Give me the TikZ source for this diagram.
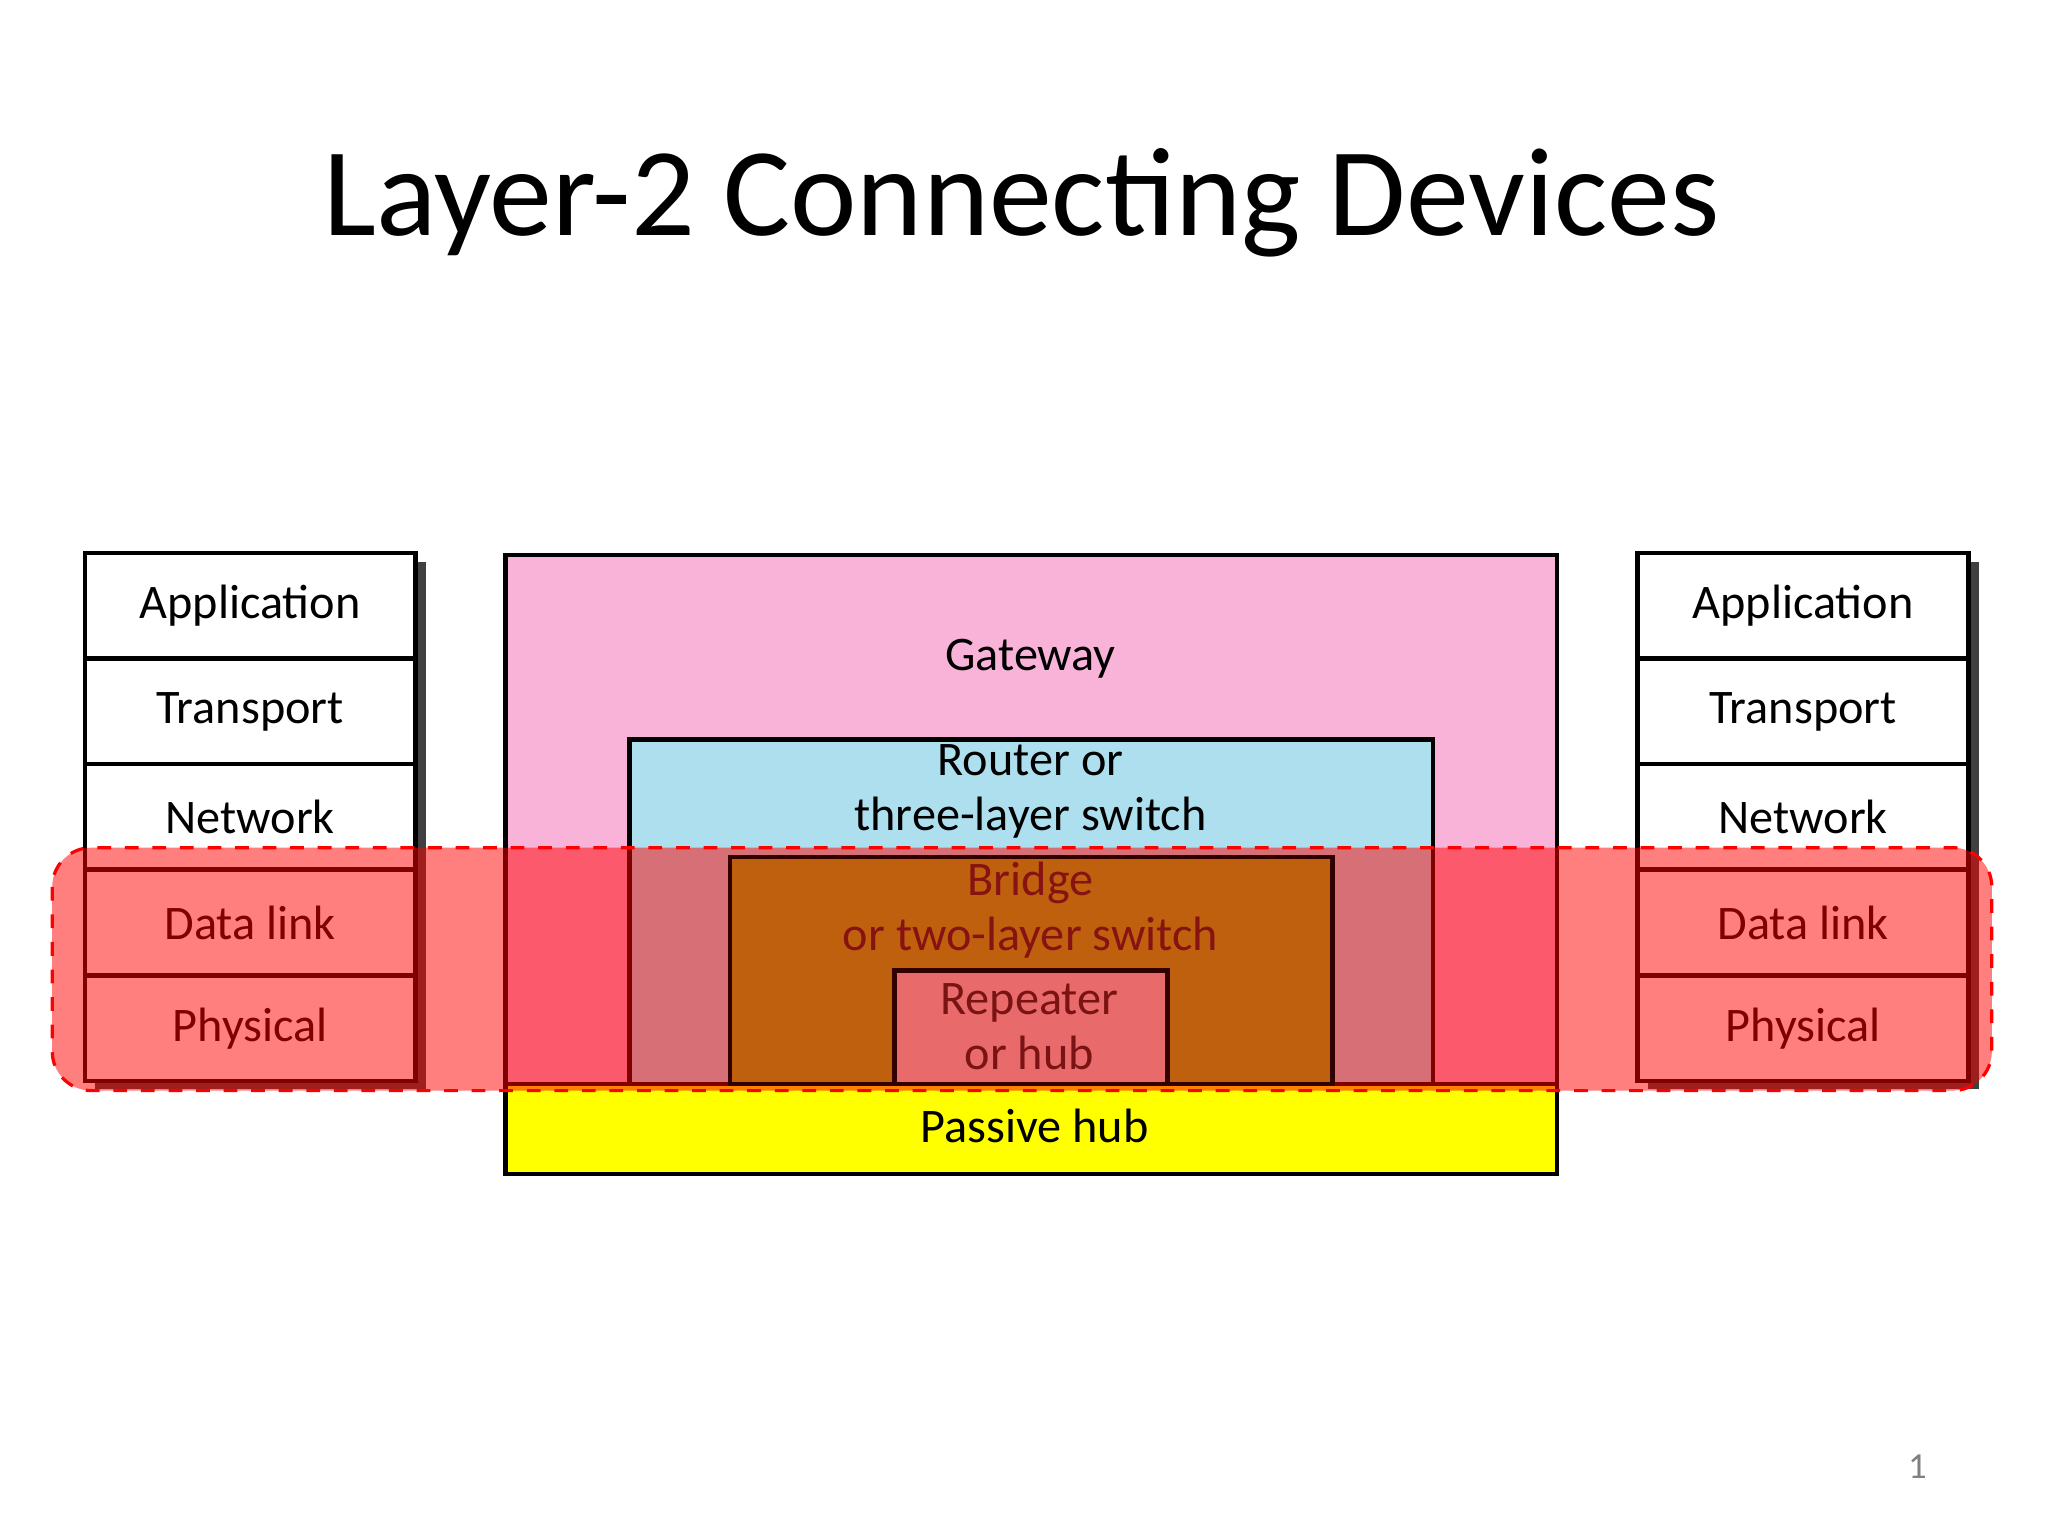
\documentclass[tikz,border=0pt]{standalone}
\usepackage{fontspec}
\setmainfont{Carlito}
\definecolor{gwpink}{HTML}{F9B3D9}
\definecolor{rtblue}{HTML}{ADDFEE}
\definecolor{brbrown}{HTML}{BF600F}
\definecolor{rpred}{HTML}{E86A6A}
\definecolor{hubyel}{HTML}{FFFF00}
\definecolor{dred}{HTML}{7A1414}
\begin{document}
\begin{tikzpicture}[x=0.01cm,y=-0.01cm,
  lbl/.style={font=\fontsize{10.5pt}{12pt}\selectfont,align=center},
  layer/.style={draw=black,line width=1pt,fill=white,minimum width=2.53cm,minimum height=0.81cm,inner sep=0pt,lbl},
  box/.style={draw=black,line width=1pt}]
\useasboundingbox (0,0) rectangle (1568,1176);
\node[font=\fontsize{27.4pt}{32pt}\selectfont] (title) at (782,155) {Layer-2 Connecting Devices};
% protocol stacks
\foreach \side/\x in {l/191.5,r/1380.5}{
  \fill[black!75] (\x-118.5,430) rectangle (\x+134.5,834);
  \foreach \n/\t [count=\i from 0] in {a/Application,t/Transport,n/Network,d/Data link,p/Physical}
    \node[layer] (\side\n) at (\x,464+80.8*\i) {\t};
}
% devices
\fill[gwpink,box] (387,425) rectangle (1192,830);
\node[lbl] (gw) at (789,504) {Gateway};
\fill[rtblue,box] (482,566) rectangle (1097,830);
\node[lbl,inner sep=0pt] (rt) at (789,606) {Router or\\three-layer switch};
\fill[hubyel,box] (387,830) rectangle (1192,899);
\node[lbl] (hub) at (792,862) {Passive hub};
% layer-2 overlay
\fill[red,fill opacity=0.5,draw=red,dashed,line width=0.7pt,rounded corners=0.3cm] (40,649) rectangle (1525,835);
\fill[brbrown,draw=black!80!red,line width=1pt] (559,656) rectangle (1020,830);
\node[lbl,inner sep=0pt,text=dred!90!red] (br) at (789,697) {Bridge\\or two-layer switch};
\fill[rpred,draw=black!80!red,line width=1pt] (685,743) rectangle (894,830);
\node[lbl,inner sep=0pt,text=dred] (rp) at (788,786) {Repeater\\or hub};
\node[font=\fontsize{8pt}{9pt}\selectfont,text=black!50] (pg) at (1468,1123) {1};
\end{tikzpicture}
\end{document}
